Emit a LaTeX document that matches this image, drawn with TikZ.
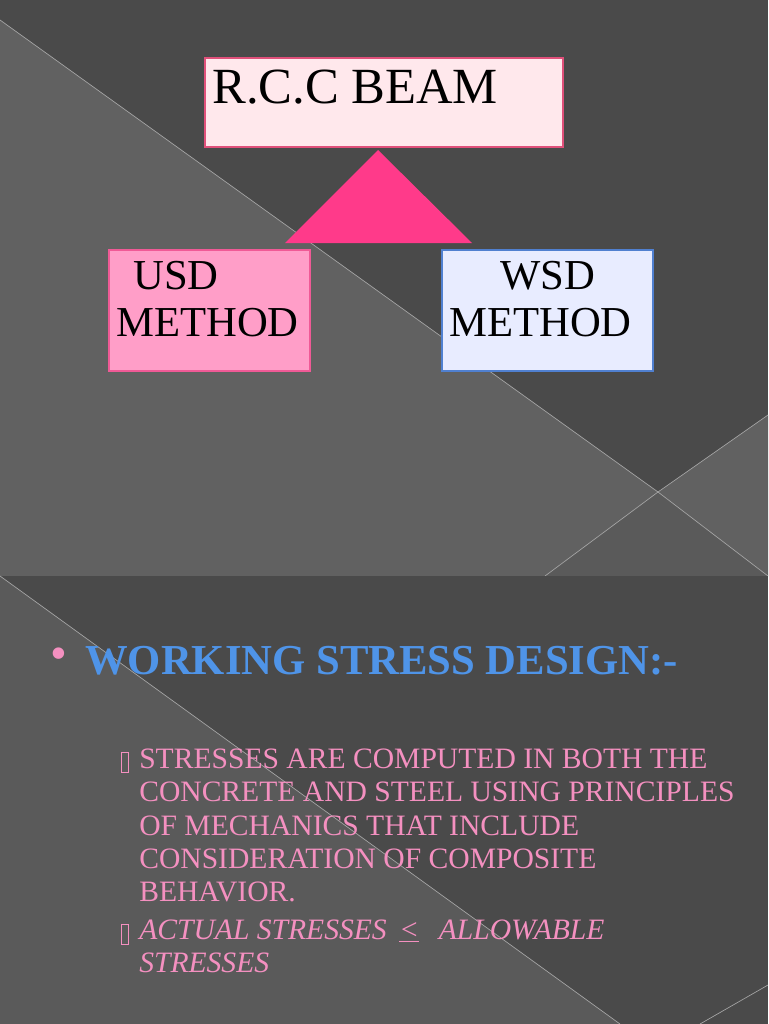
\documentclass[tikz,border=0pt]{standalone}
\usepackage{fontspec}
\setmainfont{Liberation Serif}
\definecolor{dk}{HTML}{4A4A4A}\definecolor{lt}{HTML}{616161}
\definecolor{lt2}{HTML}{5A5A5A}\definecolor{pinktxt}{HTML}{F490C0}
\definecolor{rccfill}{RGB}{255,232,236}\definecolor{rccdraw}{RGB}{224,80,122}
\definecolor{trifill}{RGB}{255,58,138}
\definecolor{usdfill}{RGB}{255,158,200}\definecolor{usddraw}{RGB}{240,90,150}
\definecolor{wsdfill}{RGB}{232,236,255}\definecolor{wsddraw}{RGB}{80,128,208}
\definecolor{headblue}{RGB}{79,148,232}
\begin{document}
\begin{tikzpicture}[x=0.75pt,y=-0.75pt,
  bx/.style={draw,line width=0.8pt,inner sep=0pt,outer sep=0pt,anchor=north west},
  body/.style={text=pinktxt,font=\fontsize{22.2}{24.8}\selectfont,anchor=north west,align=left,inner sep=0pt}]
\useasboundingbox (0,0) rectangle (768,1024);
% top slide
\fill[dk] (0,0) rectangle (768,576);
\fill[lt] (0,20) -- (658,492) -- (545,576) -- (0,576) -- cycle;
\fill[lt] (658,492) -- (768,415) -- (768,576) -- cycle;
\fill[lt2] (658,492) -- (768,576) -- (545,576) -- cycle;
\draw[gray!70,line width=0.5pt] (0,20) -- (658,492) -- (768,576);
\draw[gray!70,line width=0.5pt] (768,415) -- (658,492) -- (545,576);
% bottom slide
\fill[dk] (0,576) rectangle (768,1024);
\fill[lt2] (0,576) -- (620,1024) -- (0,1024) -- cycle;
\draw[gray!70,line width=0.5pt] (0,576) -- (620,1024);
\draw[gray!70,line width=0.5pt] (700,1024) -- (768,985);
% boxes
\node[bx,fill=rccfill,draw=rccdraw,minimum width=358*0.75pt,minimum height=89*0.75pt] (rcc) at (205,58) {};
\node[anchor=north west,inner sep=0pt,font=\fontsize{38}{40}\selectfont] at (212,70) {R.C.C BEAM};
\fill[trifill] (378,150) -- (472,243) -- (285,243) -- cycle;
\node[bx,fill=usdfill,draw=usddraw,minimum width=201*0.75pt,minimum height=121*0.75pt] (usd) at (109,250) {};
\node[anchor=north west,inner sep=0pt,align=left,font=\fontsize{32}{35}\selectfont] at (116,261) {\hspace*{0.4em}USD\\METHOD};
\node[bx,fill=wsdfill,draw=wsddraw,minimum width=211*0.75pt,minimum height=121*0.75pt] (wsd) at (442,250) {};
\node[anchor=north west,inner sep=0pt,align=left,font=\fontsize{32}{35}\selectfont] at (449,261) {\hspace*{1.2em}WSD\\METHOD};
% bottom text
\node[text=pinktxt,font=\fontsize{36}{36}\selectfont,anchor=west,inner sep=0pt] (b0) at (50,659) {•};
\node[text=headblue,font=\bfseries\fontsize{32}{34}\selectfont,anchor=west,inner sep=0pt] (h) at (85,661) {WORKING STRESS DESIGN:-};
\draw[pinktxt,line width=0.6pt] (121,752) rectangle (128,772);
\node[body] (t1) at (139,749) {STRESSES ARE COMPUTED IN BOTH THE\\CONCRETE AND STEEL USING PRINCIPLES\\OF MECHANICS THAT INCLUDE\\CONSIDERATION OF COMPOSITE\\BEHAVIOR.};
\draw[pinktxt,line width=0.6pt] (121,924) rectangle (128,944);
\node[body,font=\itshape\fontsize{22.2}{24.8}\selectfont] (t2) at (139,920) {ACTUAL STRESSES \,\underline{<}\, \ ALLOWABLE\\STRESSES};
\end{tikzpicture}
\end{document}
